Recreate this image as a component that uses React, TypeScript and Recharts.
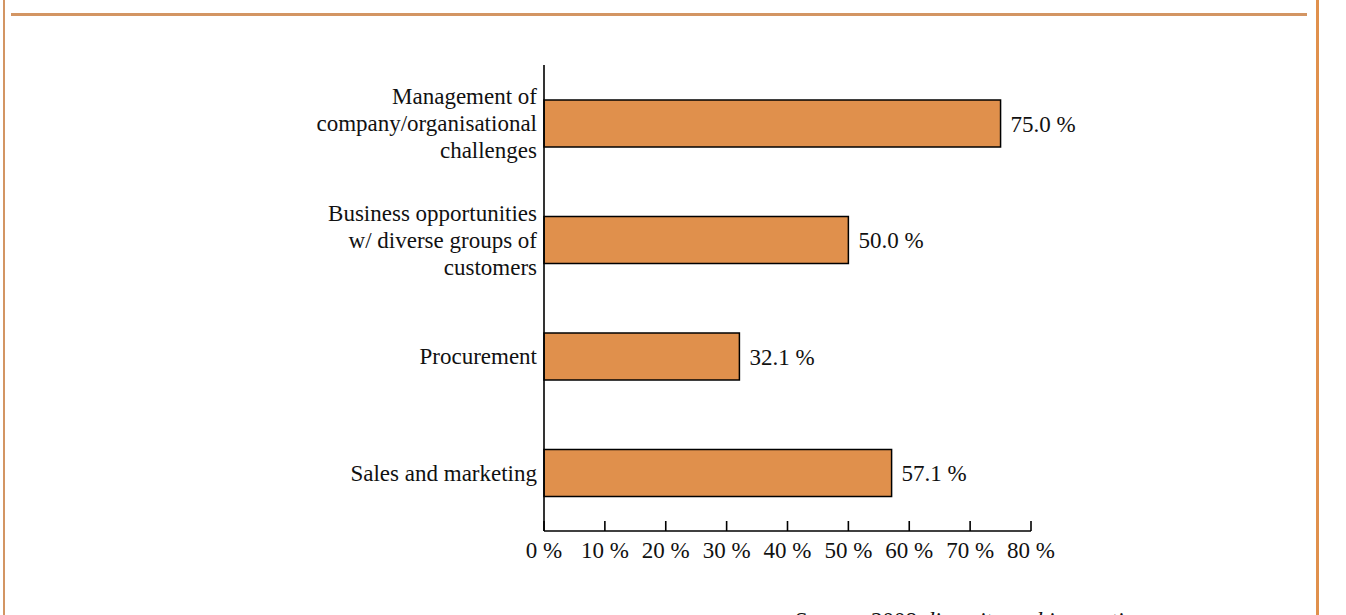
import React from "react";
import { BarChart, Bar, XAxis, YAxis, LabelList } from "recharts";

// category labels, one entry per bar (line breaks as in the original)
const categories = [
  "Management of\ncompany/organisational\nchallenges",
  "Business opportunities\nw/ diverse groups of\ncustomers",
  "Procurement",
  "Sales and marketing",
];
const shares = [75.0, 50.0, 32.1, 57.1];
const xTicks = [0, 10, 20, 30, 40, 50, 60, 70, 80];

const data = categories.map((name, i) => ({ name, share: shares[i] }));

const FONT = "'Liberation Serif', 'DejaVu Serif', serif";
const FS = 23;
const ORANGE = "#e0904c";
const FRAME = "#d39563";

const CategoryTick = ({ x, y, payload }: any) => {
  const lines = String(payload.value).split("\n");
  const lh = 27;
  const first = y - ((lines.length - 1) * lh) / 2 + 8;
  return (
    <text x={x - 7} y={first} textAnchor="end" fontFamily={FONT} fontSize={FS} fill="#111">
      {lines.map((l, i) => (
        <tspan key={i} x={x - 7} y={first + i * lh}>
          {l}
        </tspan>
      ))}
    </text>
  );
};

const PercentTick = ({ x, y, payload }: any) => (
  <g>
    <line x1={x} x2={x} y1={y - 10} y2={y} stroke="#000" strokeWidth={1.6} />
    <text x={x} y={y + 27} textAnchor="middle" fontFamily={FONT} fontSize={FS} fill="#111">
      {`${payload.value} %`}
    </text>
  </g>
);

export default function App() {
  return (
    <div style={{ position: "absolute", left: 0, top: 0, width: 1346, height: 615, background: "#fff", overflow: "hidden" }}>
      {/* frame */}
      <div style={{ position: "absolute", left: 3, top: 0, width: 2, height: 615, background: FRAME }} />
      <div style={{ position: "absolute", left: 1316, top: 0, width: 3, height: 615, background: ORANGE }} />
      <div style={{ position: "absolute", left: 11, top: 13, width: 1296, height: 3, background: FRAME }} />

      <div style={{ position: "absolute", left: 0, top: 0 }}>
        <BarChart
          width={1346}
          height={615}
          data={data}
          layout="vertical"
          margin={{ top: 65, right: 315, bottom: 44, left: 0 }}
          barCategoryGap={35}
        >
          <XAxis
            type="number"
            domain={[0, 80]}
            ticks={xTicks}
            height={40}
            tickLine={false}
            tickSize={0}
            tickMargin={0}
            axisLine={{ stroke: "#000", strokeWidth: 1.6 }}
            tick={<PercentTick />}
            interval={0}
          />
          <YAxis
            type="category"
            dataKey="name"
            width={544}
            tickLine={false}
            tickSize={0}
            tickMargin={0}
            axisLine={{ stroke: "#000", strokeWidth: 1.6 }}
            tick={<CategoryTick />}
            interval={0}
          />
          <Bar dataKey="share" fill={ORANGE} stroke="#000" strokeWidth={1.5} isAnimationActive={false}>
            <LabelList
              dataKey="share"
              position="right"
              offset={10}
              formatter={(v: any) => `${Number(v).toFixed(1)} %`}
              style={{ fontFamily: FONT, fontSize: FS, fill: "#111" }}
            />
          </Bar>
        </BarChart>
      </div>

      {/* source note, cut by the bottom edge as in the original */}
      <div
        style={{
          position: "absolute",
          left: 795,
          top: 608,
          fontFamily: FONT,
          fontSize: 23,
          color: "#111",
          whiteSpace: "nowrap",
        }}
      >
        Source: 2008 <i>diversity and innovation survey</i>
      </div>
    </div>
  );
}
